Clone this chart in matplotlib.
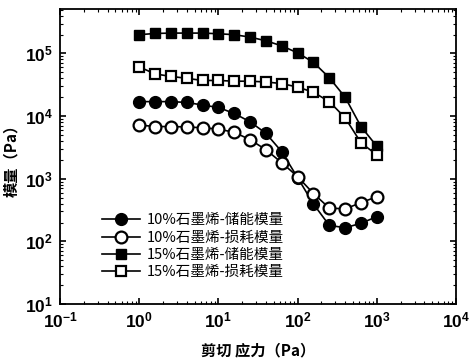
import matplotlib
matplotlib.use("Agg")
import matplotlib.pyplot as plt
from matplotlib.ticker import LogLocator, NullFormatter

plt.rcParams['font.family'] = ['Liberation Sans', 'Noto Sans CJK SC', 'DejaVu Sans']
plt.rcParams['mathtext.fontset'] = 'custom'
plt.rcParams['mathtext.rm'] = 'Liberation Sans:bold'
plt.rcParams['mathtext.bf'] = 'Liberation Sans:bold'

# shear stress (Pa)
stress = [1, 1.585, 2.512, 3.981, 6.31, 10, 15.85, 25.12, 39.81, 63.1,
          100, 158.5, 251.2, 398.1, 631, 1000]

g1_storage = [1.7e4, 1.7e4, 1.7e4, 1.65e4, 1.5e4, 1.37e4, 1.1e4, 8.1e3, 5.3e3, 2.7e3,
              1.04e3, 395, 180, 165, 194, 248]
g1_loss = [7.2e3, 6.8e3, 6.8e3, 6.7e3, 6.5e3, 6.2e3, 5.5e3, 4.2e3, 2.9e3, 1.8e3,
           1.08e3, 580, 340, 330, 414, 516]
g2_storage = [1.99e5, 2.08e5, 2.11e5, 2.11e5, 2.11e5, 2.06e5, 1.99e5, 1.82e5, 1.59e5, 1.32e5,
              1.02e5, 7.2e4, 4.1e4, 2.0e4, 6.8e3, 3.3e3]
g2_loss = [6.1e4, 4.7e4, 4.3e4, 4.0e4, 3.7e4, 3.7e4, 3.6e4, 3.6e4, 3.5e4, 3.3e4,
           2.9e4, 2.4e4, 1.7e4, 9.4e3, 3.75e3, 2.4e3]

labels = ["10%石墨烯-储能模量", "10%石墨烯-损耗模量",
          "15%石墨烯-储能模量", "15%石墨烯-损耗模量"]

fig = plt.figure(figsize=(4.74, 3.63), dpi=100)
ax = fig.add_axes([0.1266, 0.1625, 0.8354, 0.8125])

ax.plot(stress, g1_storage, '-o', color='black', mfc='black', ms=8.5, lw=1.2, label=labels[0])
ax.plot(stress, g1_loss, '-o', color='black', mfc='white', mew=1.6, ms=8.5, lw=1.2, label=labels[1])
ax.plot(stress, g2_storage, '-s', color='black', mfc='black', ms=7.5, lw=1.2, label=labels[2])
ax.plot(stress, g2_loss, '-s', color='black', mfc='white', mew=1.6, ms=7.5, lw=1.2, label=labels[3])

ax.set_xscale('log')
ax.set_yscale('log')
ax.set_xlim(0.1, 1e4)
ax.set_ylim(10, 5.1e5)

for a in (ax.xaxis, ax.yaxis):
    a.set_major_locator(LogLocator(base=10, numticks=10))
    a.set_minor_locator(LogLocator(base=10, subs=range(2, 10), numticks=100))
    a.set_minor_formatter(NullFormatter())

ax.tick_params(which='both', direction='in', top=True, right=True)
ax.tick_params(which='major', length=4, width=1.2, labelsize=12.5, pad=5)
ax.tick_params(which='minor', length=2, width=0.8)
for lab in ax.get_xticklabels() + ax.get_yticklabels():
    lab.set_fontweight('bold')
for s in ax.spines.values():
    s.set_linewidth(1.3)

ax.set_xlabel("剪切 应力（Pa）", fontsize=11, fontweight='bold',
              family=['Noto Sans CJK SC', 'DejaVu Sans'], labelpad=8)
ax.set_ylabel("模量（Pa）", fontsize=11, fontweight='bold',
              family=['Noto Sans CJK SC', 'DejaVu Sans'], labelpad=4)

leg = ax.legend(loc='lower left', bbox_to_anchor=(0.08, 0.05), frameon=False,
                prop={'family': ['Noto Sans CJK SC', 'DejaVu Sans'], 'size': 10.5},
                handlelength=2.6, handletextpad=0.5, labelspacing=0.22, borderpad=0.2)

fig.savefig("out.png", dpi=100, facecolor='white')
